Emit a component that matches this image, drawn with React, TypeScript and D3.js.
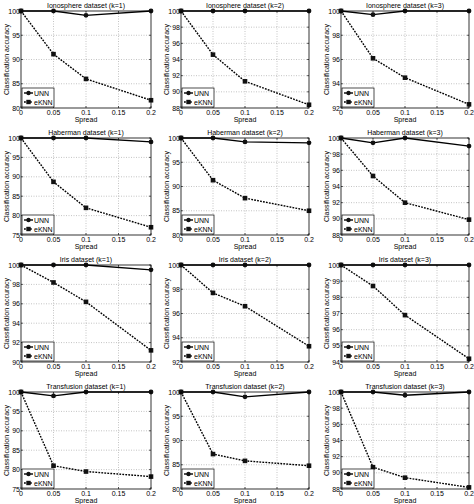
import * as d3 from "d3";

// spread values where the classifiers were evaluated
const spread = [0, 0.05, 0.1, 0.2];
const xTicks = [0, 0.05, 0.1, 0.15, 0.2];
const datasets = ["Ionosphere", "Haberman", "Iris", "Transfusion"];
const kValues = [1, 2, 3];

// accuracy (%) per dataset row, per k column
const unnAccuracy = [
  [[100, 100, 99.1, 100], [100, 100, 100, 100], [100, 99.7, 100, 100]],
  [[100, 100, 100, 99], [100, 100, 99.2, 99], [100, 99.4, 100, 99]],
  [[100, 100, 100, 99.5], [100, 100, 100, 100], [100, 100, 100, 100]],
  [[100, 99, 100, 100], [100, 100, 99, 100], [100, 100, 99.6, 100]],
];
const eknnAccuracy = [
  [[100, 91.1, 86, 81.6], [100, 94.6, 91.3, 88.4], [100, 96.1, 94.5, 92.3]],
  [[100, 88.7, 82, 77], [100, 91.3, 87.6, 85], [100, 95.3, 92, 89.9]],
  [[100, 98.2, 96.2, 91.2], [100, 97.7, 96.6, 93.3], [100, 98.7, 96.9, 94.2]],
  [[100, 81, 79.5, 78.2], [100, 87.2, 85.8, 84.8], [100, 90.7, 89.4, 88.2]],
];
const yMin = [
  [80, 88, 92],
  [75, 80, 88],
  [90, 92, 94],
  [75, 80, 88],
];
const yStep = [
  [5, 2, 2],
  [5, 5, 2],
  [2, 2, 1],
  [5, 5, 2],
];

const W = 474;
const H = 504;
const colLeft = [21, 181, 341];
const colWidth = [130, 128, 128];
const rowTop = [11, 138, 265, 392];
const plotH = 97;
const font = "'Liberation Sans', Arial, Helvetica, sans-serif";
const ink = "#000";

function Panel({ row, col }: { row: number; col: number }) {
  const left = colLeft[col];
  const top = rowTop[row];
  const w = colWidth[col];
  const x = d3.scaleLinear().domain([0, 0.2]).range([left, left + w]);
  const y = d3.scaleLinear().domain([yMin[row][col], 100]).range([top + plotH, top]);
  const yTicks = d3.range(yMin[row][col], 100 + 1e-6, yStep[row][col]);
  const bottom = top + plotH;

  const line = d3
    .line<number>()
    .x((_, i) => x(spread[i]))
    .y((d) => y(d));

  const unn = unnAccuracy[row][col];
  const eknn = eknnAccuracy[row][col];
  const lgX = left + 1;
  const lgY = bottom - 20;

  return (
    <g fontFamily={font}>
      {/* grid */}
      {xTicks.slice(1, -1).map((t) => (
        <line key={"gx" + t} x1={x(t)} x2={x(t)} y1={top} y2={bottom}
          stroke="#888" strokeWidth={0.5} strokeDasharray="1,1.5" />
      ))}
      {yTicks.slice(1, -1).map((t) => (
        <line key={"gy" + t} x1={left} x2={left + w} y1={y(t)} y2={y(t)}
          stroke="#888" strokeWidth={0.5} strokeDasharray="1,1.5" />
      ))}
      {/* ticks */}
      {xTicks.map((t) => (
        <g key={"tx" + t}>
          <line x1={x(t)} x2={x(t)} y1={bottom} y2={bottom - 2} stroke={ink} strokeWidth={0.6} />
          <line x1={x(t)} x2={x(t)} y1={top} y2={top + 2} stroke={ink} strokeWidth={0.6} />
          <text x={x(t)} y={bottom + 6.5} fontSize={7} textAnchor="middle" fill={ink}>{String(t)}</text>
        </g>
      ))}
      {yTicks.map((t) => (
        <g key={"ty" + t}>
          <line x1={left} x2={left + 2} y1={y(t)} y2={y(t)} stroke={ink} strokeWidth={0.6} />
          <line x1={left + w} x2={left + w - 2} y1={y(t)} y2={y(t)} stroke={ink} strokeWidth={0.6} />
          <text x={left - 1} y={y(t) + 2.5} fontSize={7} textAnchor="end" fill={ink}>{String(t)}</text>
        </g>
      ))}
      {/* series */}
      <path d={line(eknn) ?? ""} fill="none" stroke={ink} strokeWidth={1.4} strokeDasharray="1.8,1.2" />
      <path d={line(unn) ?? ""} fill="none" stroke={ink} strokeWidth={1.4} />
      {eknn.map((v, i) => (
        <rect key={"se" + i} x={x(spread[i]) - 2.3} y={y(v) - 2.3} width={4.6} height={4.6} fill="#111" />
      ))}
      {unn.map((v, i) => (
        <circle key={"su" + i} cx={x(spread[i])} cy={y(v)} r={2.4} fill="#111" />
      ))}
      {/* axes box */}
      <rect x={left} y={top} width={w} height={plotH} fill="none" stroke={ink} strokeWidth={0.8} />
      {/* labels */}
      <text x={left + w / 2} y={top - 3.5} fontSize={7} textAnchor="middle" fill={ink}>
        {`${datasets[row]} dataset (k=${kValues[col]})`}
      </text>
      <text x={left + w / 2} y={bottom + 13.5} fontSize={7} textAnchor="middle" fill={ink}>Spread</text>
      <text transform={`translate(${left - 12.5},${top + plotH / 2}) rotate(-90)`}
        fontSize={7} textAnchor="middle" fill={ink}>Classification accuracy</text>
      {/* legend */}
      <rect x={lgX} y={lgY} width={32} height={19} fill="#fff" stroke={ink} strokeWidth={0.7} />
      <line x1={lgX + 2} x2={lgX + 11} y1={lgY + 5} y2={lgY + 5} stroke={ink} strokeWidth={1.4} />
      <circle cx={lgX + 6.5} cy={lgY + 5} r={2.2} fill="#111" />
      <text x={lgX + 12} y={lgY + 7.5} fontSize={7} fill={ink}>UNN</text>
      <line x1={lgX + 2} x2={lgX + 11} y1={lgY + 14} y2={lgY + 14} stroke={ink} strokeWidth={1.4} strokeDasharray="1.8,1.2" />
      <rect x={lgX + 4.3} y={lgY + 11.8} width={4.4} height={4.4} fill="#111" />
      <text x={lgX + 12} y={lgY + 16.5} fontSize={7} fill={ink}>eKNN</text>
    </g>
  );
}

export default function App() {
  return (
    <svg width={W} height={H} viewBox={`0 0 ${W} ${H}`}
      style={{ position: "absolute", left: 0, top: 0, background: "#fff" }}>
      <rect width={W} height={H} fill="#fff" />
      {datasets.map((_, r) =>
        kValues.map((_, c) => <Panel key={`${r}-${c}`} row={r} col={c} />)
      )}
    </svg>
  );
}
